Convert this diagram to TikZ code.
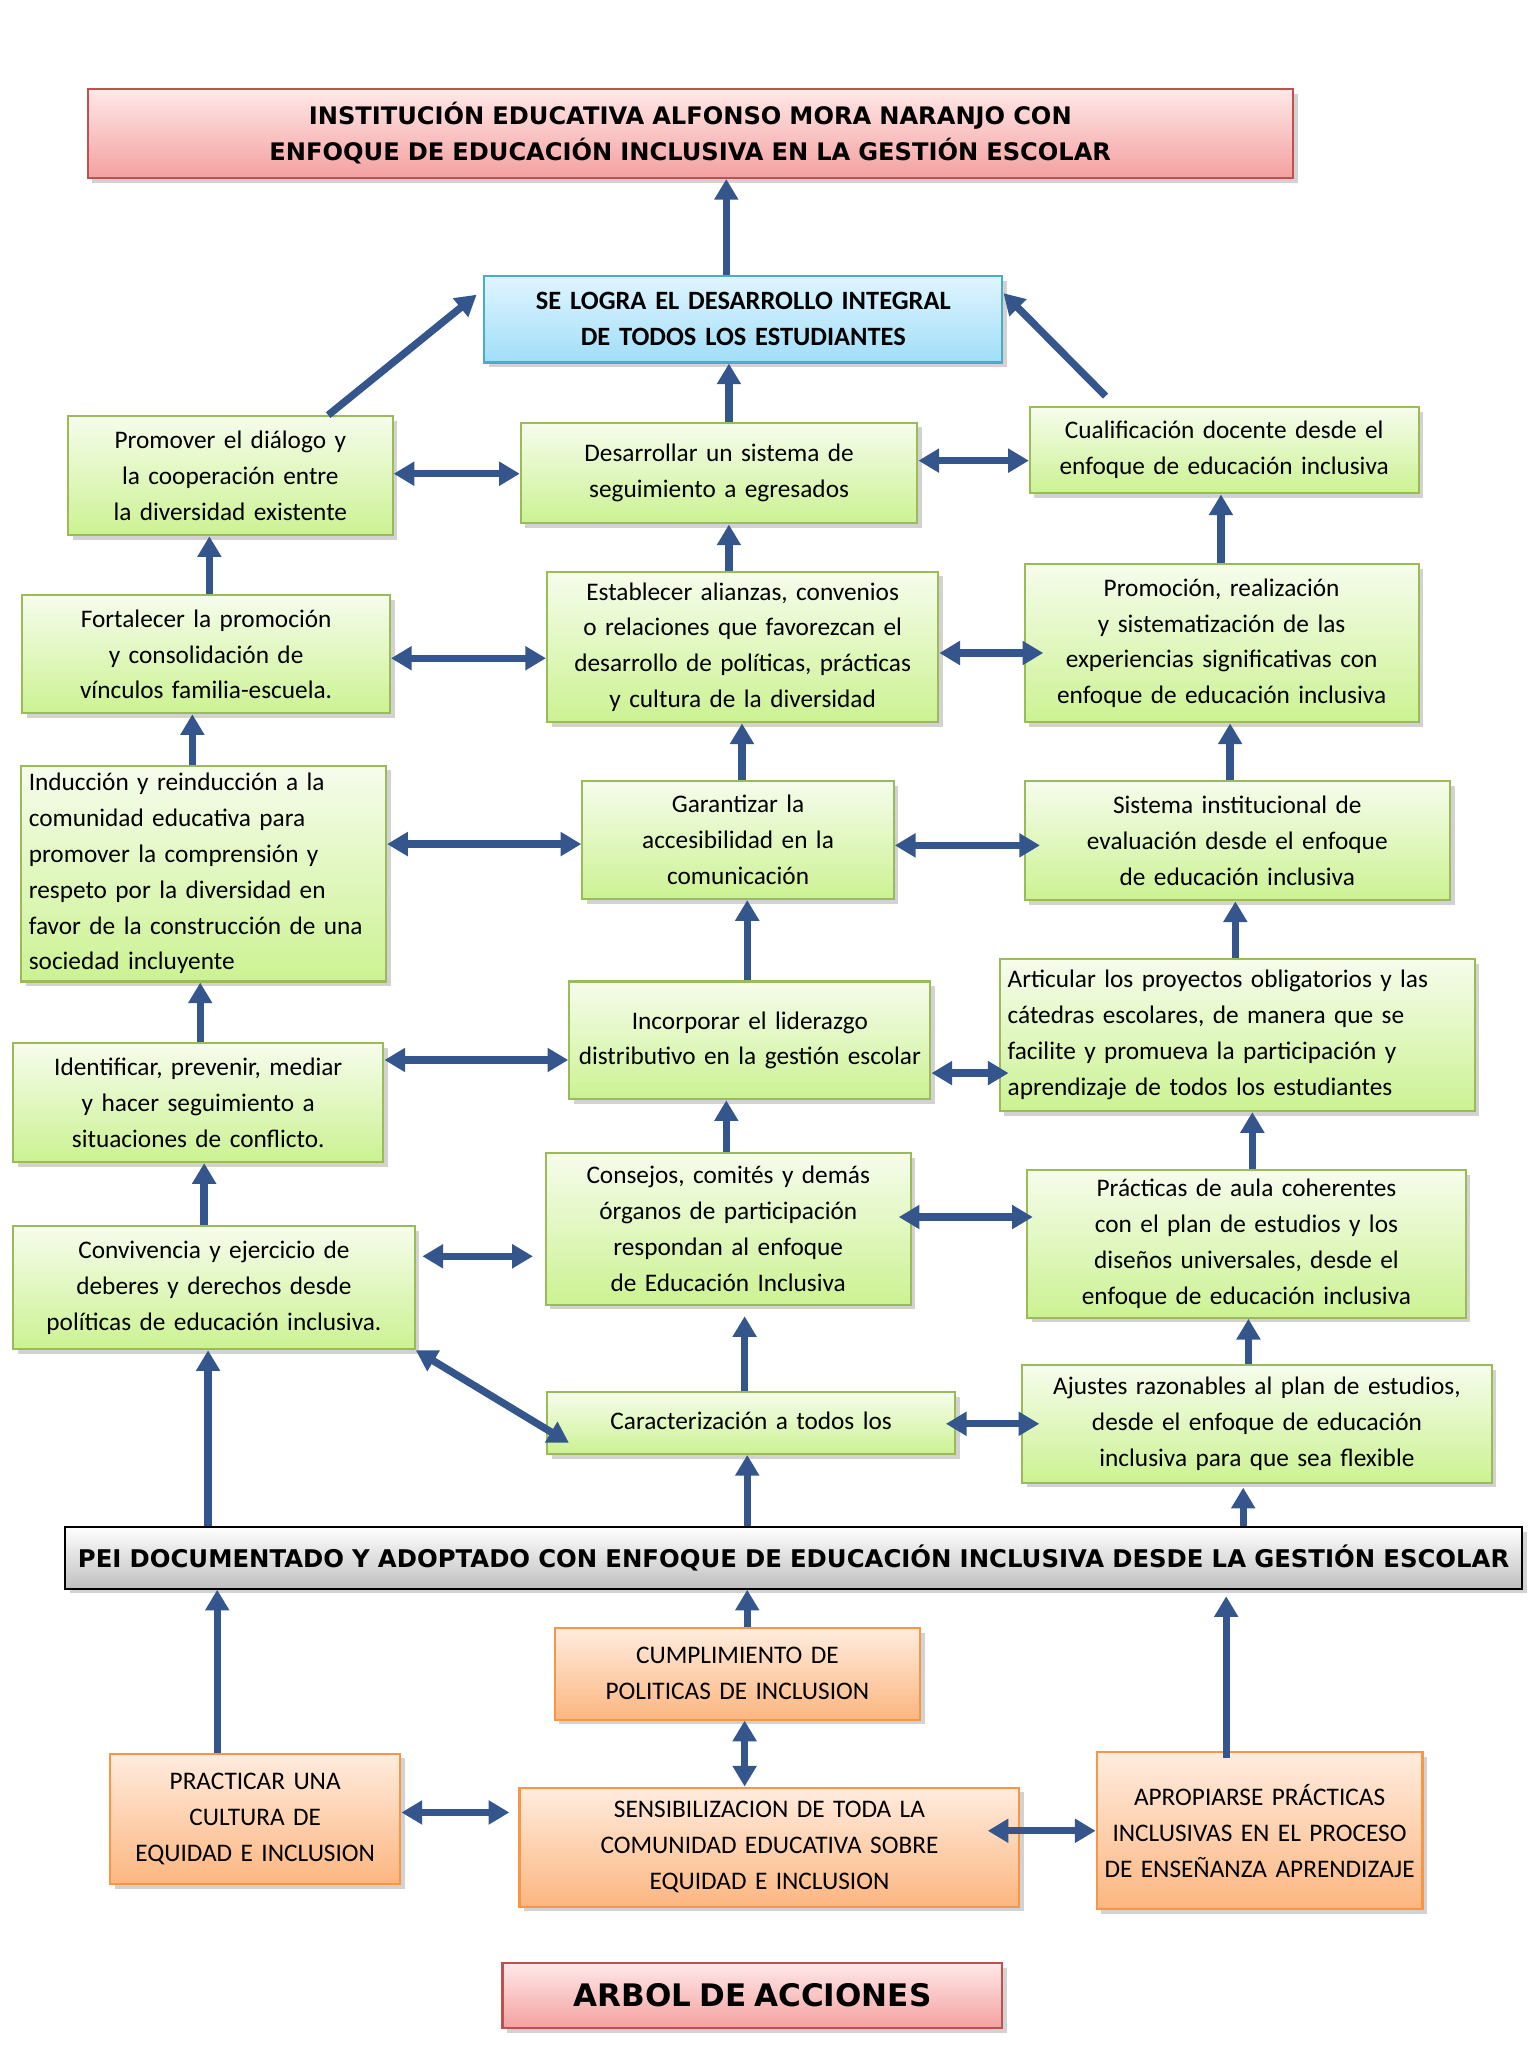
\documentclass[tikz,border=0pt]{standalone}
\usepackage{fontspec}
\setmainfont{Carlito}
\newfontfamily\hd{DejaVu Sans}
\usetikzlibrary{arrows.meta,shadows}
\definecolor{ablue}{RGB}{52,86,140}
\tikzset{
 base/.style={draw, line width=0.9pt, inner xsep=0.12cm, inner ysep=2pt, align=center,
   font=\fontsize{11}{15.6}\selectfont, drop shadow={shadow xshift=2pt,shadow yshift=-2pt,fill=black!35}},
 gr/.style={base, draw={rgb,255:red,155;green,187;blue,89}, top color={rgb,255:red,246;green,252;blue,236}, bottom color={rgb,255:red,204;green,242;blue,146}},
 org/.style={base, draw={rgb,255:red,247;green,150;blue,70}, top color={rgb,255:red,255;green,236;blue,222}, bottom color={rgb,255:red,252;green,182;blue,128}},
 rd/.style={base, draw={rgb,255:red,192;green,80;blue,77}, top color={rgb,255:red,255;green,232;blue,232}, bottom color={rgb,255:red,244;green,160;blue,160}, font=\hd\bfseries\fontsize{10.5}{15.6}\selectfont},
 bl/.style={base, draw={rgb,255:red,75;green,172;blue,198}, top color={rgb,255:red,224;green,245;blue,255}, bottom color={rgb,255:red,160;green,222;blue,248}, font=\bfseries\fontsize{11.5}{15.6}\selectfont},
 gy/.style={base, draw=black, top color=white, bottom color=black!25, font=\hd\bfseries\fontsize{10.6}{15}\selectfont},
 lft/.style={align=left},
 arr/.style={line width=3.2pt, draw=ablue, -{Triangle[length=9pt,width=10pt]}},
 dar/.style={line width=3.2pt, draw=ablue, {Triangle[length=9pt,width=10pt]}-{Triangle[length=9pt,width=10pt]}},
}
\newcommand\bx[7]{%
 \pgfmathsetmacro\bw{(#4-#2)*0.02}\pgfmathsetmacro\bh{(#5-#3)*0.02}%
 \pgfmathsetmacro\tw{\bw-0.24}\pgfmathsetmacro\bcx{(#4+#2)/2}\pgfmathsetmacro\bcy{(#5+#3)/2}%
 \node[#6, minimum width=\bw cm, minimum height=\bh cm, text width=\tw cm] (#1) at (\bcx,\bcy) {#7};}
\begin{document}
\hyphenpenalty=10000 \exhyphenpenalty=10000
\begin{tikzpicture}[x=0.02cm,y=-0.02cm]
\useasboundingbox[fill=white] (0,0) rectangle (1175,1565);
\bx{title}{67}{68}{988}{136}{rd}{INSTITUCIÓN EDUCATIVA ALFONSO MORA NARANJO CON ENFOQUE DE EDUCACIÓN INCLUSIVA EN LA GESTIÓN ESCOLAR}
\bx{lsg}{370}{211}{766}{277}{bl}{SE LOGRA EL DESARROLLO INTEGRAL DE TODOS LOS ESTUDIANTES}
\bx{prom}{52}{318}{300}{409}{gr}{Promover el diálogo y la cooperación entre la diversidad existente}
\bx{des}{398}{323}{701}{400}{gr}{Desarrollar un sistema de\\ seguimiento a egresados}
\bx{cual}{787}{311}{1084}{377}{gr}{Cualificación docente desde el enfoque de educación inclusiva}
\bx{fort}{17}{455}{298}{545}{gr}{Fortalecer la promoción y consolidación de vínculos familia-escuela.}
\bx{est}{418}{437}{717}{552}{gr}{Establecer alianzas, convenios o relaciones que favorezcan el desarrollo de políticas, prácticas y cultura de la diversidad}
\bx{pmc}{783}{431}{1084}{552}{gr}{Promoción, realización y sistematización de las experiencias significativas con enfoque de educación inclusiva}
\bx{ind}{16}{585}{295}{750}{gr,lft}{Inducción y reinducción a la comunidad educativa para promover la comprensión y respeto por la diversidad en favor de la construcción de una sociedad incluyente}
\bx{gar}{445}{597}{683}{687}{gr}{Garantizar la\\ accesibilidad en la\\ comunicación}
\bx{sis}{783}{597}{1108}{688}{gr}{Sistema institucional de evaluación desde el enfoque de educación inclusiva}
\bx{ide}{10}{797}{293}{888}{gr}{Identificar, prevenir, mediar y hacer seguimiento a situaciones de conflicto.}
\bx{inc}{435}{750}{711}{840}{gr}{Incorporar el liderazgo distributivo en la gestión escolar}
\bx{art}{764}{733}{1127}{849}{gr,lft}{Articular los proyectos obligatorios y las cátedras escolares, de manera que se facilite y promueva la participación y aprendizaje de todos los estudiantes}
\bx{conv}{10}{937}{317}{1031}{gr}{Convivencia y ejercicio de deberes y derechos desde políticas de educación inclusiva.}
\bx{cons}{417}{881}{696}{997}{gr}{Consejos, comités y demás órganos de participación respondan al enfoque de Educación Inclusiva}
\bx{prac}{785}{894}{1120}{1007}{gr}{Prácticas de aula coherentes con el plan de estudios y los diseños universales, desde el enfoque de educación inclusiva}
\bx{car}{418}{1064}{730}{1111}{gr}{Caracterización a todos los\vphantom{g}}
\bx{aju}{781}{1043}{1140}{1133}{gr}{Ajustes razonables al plan de estudios, desde el enfoque de educación inclusiva para que sea flexible}
\bx{pei}{50}{1167}{1163}{1214}{gy}{PEI DOCUMENTADO Y ADOPTADO CON ENFOQUE DE EDUCACIÓN INCLUSIVA DESDE LA GESTIÓN ESCOLAR}
\bx{cum}{424}{1244}{703}{1314}{org}{CUMPLIMIENTO DE\\ POLITICAS DE INCLUSION}
\bx{pra}{84}{1340}{306}{1440}{org}{PRACTICAR UNA CULTURA DE EQUIDAD E INCLUSION}
\bx{sen}{397}{1366}{779}{1457}{org}{SENSIBILIZACION DE TODA LA\\ COMUNIDAD EDUCATIVA SOBRE\\ EQUIDAD E INCLUSION}
\bx{apr}{838}{1339}{1087}{1459}{org}{APROPIARSE PRÁCTICAS INCLUSIVAS EN EL PROCESO DE ENSEÑANZA APRENDIZAJE}
\bx{arbol}{384}{1500}{766}{1550}{rd}{{\fontsize{13.5}{16}\selectfont ARBOL DE ACCIONES}}
% arrows
\coordinate (c1) at (555,0);\draw[arr] (lsg.north -| c1) -- (title.south -| c1);
\draw[arr] ([xshift=-1cm]prom.north east) -- ([xshift=-0.1cm,yshift=-0.3cm]lsg.north west);
\draw[arr] (des.north -| 557,0) -- (lsg.south -| 557,0);
\draw[arr] ([xshift=-4.8cm,yshift=0.15cm]cual.north east) -- ([yshift=0.4cm]lsg.east);
\draw[dar] (prom.east |- 0,362) -- (des.west |- 0,362);
\draw[dar] (des.east |- 0,352) -- (cual.west |- 0,352);
\draw[arr] (fort.north -| 160,0) -- (prom.south -| 160,0);
\draw[arr] (est.north -| 557,0) -- (des.south -| 557,0);
\draw[arr] (pmc.north -| 933,0) -- (cual.south -| 933,0);
\draw[dar] (fort.east |- 0,503) -- (est.west |- 0,503);
\draw[dar] (est.east |- 0,499) -- ([xshift=0.3cm]pmc.west |- 0,499);
\draw[arr] (ind.north -| 147,0) -- (fort.south -| 147,0);
\draw[arr] (gar.north -| 567,0) -- (est.south -| 567,0);
\draw[arr] (sis.north -| 940,0) -- (pmc.south -| 940,0);
\draw[dar] (ind.east |- 0,645) -- (gar.west |- 0,645);
\draw[dar] (gar.east |- 0,646) -- ([xshift=0.25cm]sis.west |- 0,646);
\draw[arr] (ide.north -| 153,0) -- (ind.south -| 153,0);
\draw[arr] (inc.north -| 571,0) -- (gar.south -| 571,0);
\draw[arr] (art.north -| 944,0) -- (sis.south -| 944,0);
\draw[dar] (ide.east |- 0,810) -- (inc.west |- 0,810);
\draw[dar] (inc.east |- 0,820) -- ([xshift=0.15cm]art.west |- 0,820);
\draw[arr] (conv.north -| 156,0) -- (ide.south -| 156,0);
\draw[arr] (cons.north -| 555,0) -- (inc.south -| 555,0);
\draw[arr] (prac.north -| 957,0) -- (art.south -| 957,0);
\draw[dar] ([xshift=0.1cm]conv.east |- 0,960) -- ([xshift=-0.18cm]cons.west |- 0,960);
\draw[dar] ([xshift=-0.2cm]cons.east |- 0,930) -- ([xshift=0.1cm]prac.west |- 0,930);
\draw[arr] (pei.north -| 159,0) -- (conv.south -| 159,0);
\draw[dar] (conv.south east) -- ([xshift=0.35cm,yshift=-0.3cm]car.west);
\draw[arr] (car.north -| 569,0) -- ([yshift=-0.16cm]cons.south -| 569,0);
\draw[arr] (aju.north -| 954,0) -- (prac.south -| 954,0);
\draw[dar] ([xshift=-0.16cm]car.east |- 0,1088) -- ([xshift=0.28cm]aju.west |- 0,1088);
\draw[arr] (pei.north -| 571,0) -- (car.south -| 571,0);
\draw[arr] (pei.north -| 950,0) -- ([yshift=-0.06cm]aju.south -| 950,0);
\draw[arr] (pra.north -| 166,0) -- (pei.south -| 166,0);
\draw[arr] (cum.north -| 571,0) -- (pei.south -| 571,0);
\draw[arr] ([yshift=-0.1cm]apr.north -| 937,0) -- ([yshift=-0.1cm]pei.south -| 937,0);
\draw[dar] (cum.south -| 569,0) -- (sen.north -| 569,0);
\draw[dar] (pra.east |- 0,1385) -- ([xshift=-0.14cm]sen.west |- 0,1385);
\draw[dar] ([xshift=-0.5cm]sen.east |- 0,1399) -- (apr.west |- 0,1399);
\end{tikzpicture}
\end{document}
